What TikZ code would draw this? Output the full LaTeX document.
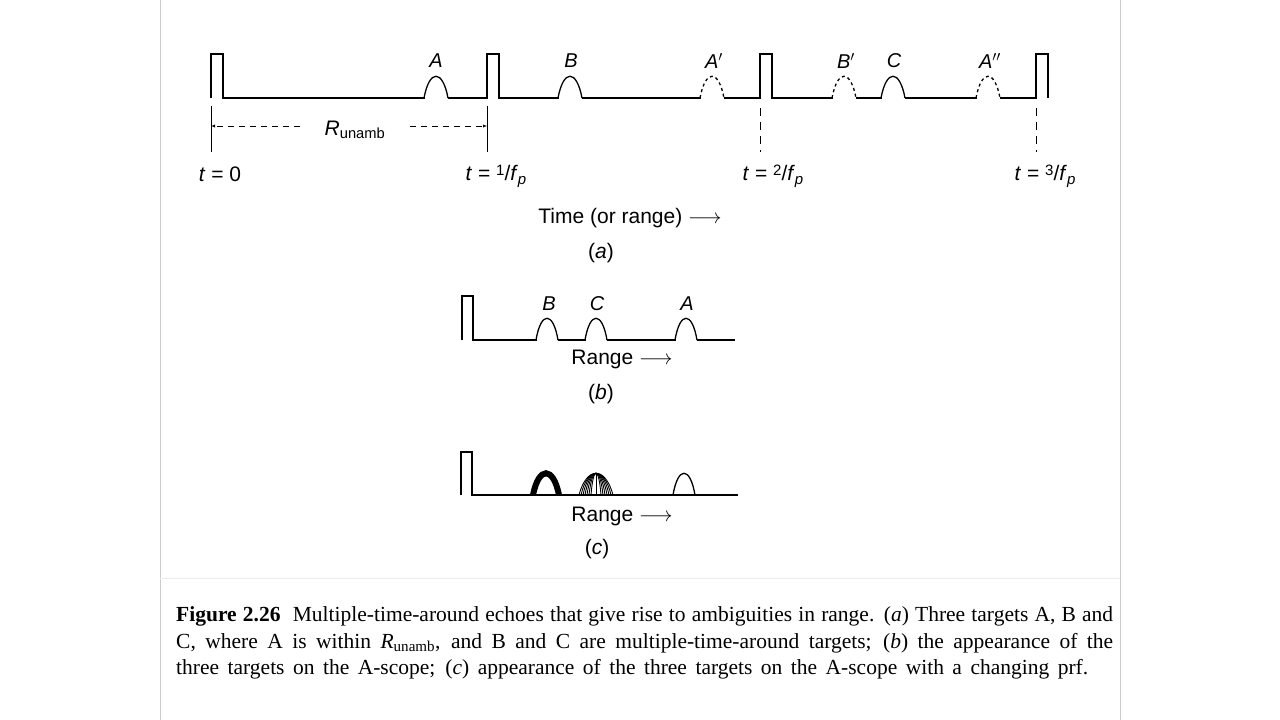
\documentclass[tikz,border=0pt]{standalone}
\usepackage{fontspec}
\setmainfont{Liberation Serif}
\newfontfamily\lab{Liberation Sans}
\newcommand\frp[1]{\raisebox{5pt}{\fontsize{15}{15}\selectfont #1}/\textit{f}\raisebox{-4pt}{\fontsize{15}{15}\selectfont\textit{p}}}
\begin{document}
\begin{tikzpicture}[x=1pt,y=-1pt,
  ln/.style={line width=1.3pt},
  lbl/.style={font=\lab\fontsize{20}{22}\selectfont\itshape},
  txt/.style={font=\lab\fontsize{21}{24}\selectfont},
  captext/.style={font=\fontsize{21.5}{25}\selectfont,anchor=west,inner sep=0}]
\useasboundingbox (0,0) rectangle (1280,720);
\fill[white] (0,0) rectangle (1280,720);
\draw[gray!40] (160,0) -- (160,720) (1120,0) -- (1120,720);
\def\bump#1#2#3#4{\draw[#4] (#1-#2,#3) .. controls (#1-0.55*#2,#3-29) and (#1+0.55*#2,#3-29) .. (#1+#2,#3);}
% (a)
\draw[ln] (211,98) -- (211,54) -- (223,54) -- (223,98) -- (487,98) -- (487,54) -- (499,54) -- (499,98)
  -- (760,98) -- (760,54) -- (772,54) -- (772,98) -- (1036,98) -- (1036,54) -- (1048,54) -- (1048,98);
\foreach \x in {436,570,893}{\fill[white] (\x-11.5,97) rectangle (\x+11.5,99);\bump{\x}{12}{98}{ln}}
\foreach \x in {712,844,988}{\fill[white] (\x-11.5,97) rectangle (\x+11.5,99);\bump{\x}{12}{98}{ln,dashed}}
\node[lbl] (la) at (436,61) {A};
\node[lbl] (lb) at (571,61) {B};
\node[lbl] (la1) at (714,61) {A$'$};
\node[lbl] (lb1) at (846,61) {B$'$};
\node[lbl] (lc) at (894,61) {C};
\node[lbl] (la2) at (990,61) {A$''$};
\coordinate (m0) at (211,106); \coordinate (m0b) at (211,152);
\coordinate (m1) at (487,106); \coordinate (m1b) at (487,152);
\coordinate (m2) at (760,108); \coordinate (m2b) at (760,152);
\coordinate (m3) at (1036,108); \coordinate (m3b) at (1036,152);
\draw[line width=1pt] (m0) -- (m0b); \draw[line width=1pt] (m1) -- (m1b);
\draw[line width=1pt,dash pattern=on 8pt off 6pt] (m2) -- (m2b);
\draw[line width=1pt,dash pattern=on 8pt off 6pt] (m3) -- (m3b);
\node[txt] (ru) at (355,130) {\textit{R}\textsubscript{unamb}};
\coordinate (rl) at (300,126); \coordinate (rr) at (410,126);
\coordinate (al) at (211,126); \coordinate (ar) at (487,126);
\draw[-latex,dash pattern=on 6pt off 5pt] (rl) -- (al);
\draw[-latex,dash pattern=on 6pt off 5pt] (rr) -- (ar);
\node[txt] (t0) at (220,174) {\textit{t} = 0};
\node[txt] (t1) at (496,176) {\textit{t} = \frp{1}};
\node[txt] (t2) at (773,176) {\textit{t} = \frp{2}};
\node[txt] (t3) at (1045,176) {\textit{t} = \frp{3}};
\node[txt] (ta) at (630,218) {Time (or range) $\longrightarrow$};
\node[txt] (pa) at (601,253) {(\textit{a})};
% (b)
\draw[ln] (462,340) -- (462,296) -- (473,296) -- (473,340) -- (735,340);
\foreach \x in {547,596,686}{\fill[white] (\x-10.5,339) rectangle (\x+10.5,341);\bump{\x}{11}{340}{ln}}
\node[lbl] (bb) at (549,304) {B};
\node[lbl] (bc) at (597,304) {C};
\node[lbl] (ba) at (687,304) {A};
\node[txt] (rb) at (622,359) {Range $\longrightarrow$};
\node[txt] (pb) at (601,394) {(\textit{b})};
% (c)
\draw[ln] (461,495) -- (461,452) -- (472,452) -- (472,495) -- (738,495);
\bump{546}{13}{495}{line width=6pt}
\foreach \w in {5,7,9,11,13,15,17}{\bump{596}{\w}{495}{line width=0.9pt}}
\draw[line width=0.9pt] (596,474) -- (596,495);
\bump{684}{11}{495}{ln}
\node[txt] (rc) at (622,516) {Range $\longrightarrow$};
\node[txt] (pc) at (597,549) {(\textit{c})};
% caption
\draw[gray!15] (160,578) -- (1120,578);
\node[captext] (c1) at (176,616) {\makebox[937pt][s]{\textbf{Figure 2.26} \ Multiple-time-around echoes that give rise to ambiguities in range. (\textit{a}) Three targets A, B and}};
\node[captext] (c2) at (176,643) {\makebox[937pt][s]{C, where A is within \textit{R}\textsubscript{unamb}, and B and C are multiple-time-around targets; (\textit{b}) the appearance of the}};
\node[captext] (c3) at (176,669) {\makebox[912pt][s]{three targets on the A-scope; (\textit{c}) appearance of the three targets on the A-scope with a changing prf.}};
\end{tikzpicture}
\end{document}
